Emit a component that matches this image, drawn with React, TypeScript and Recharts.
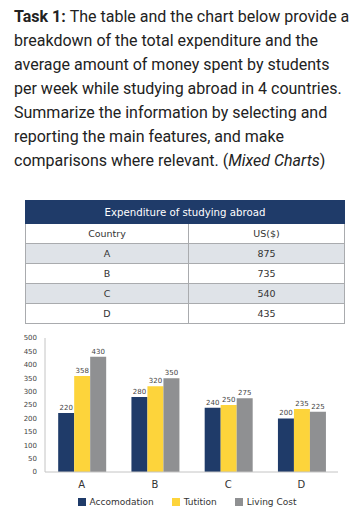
import React from 'react';
import { BarChart, Bar, XAxis, YAxis, Legend, LabelList } from 'recharts';

// chart data
const countries = ['A', 'B', 'C', 'D'];
const accommodation = [220, 280, 240, 200];
const tuition = [358, 320, 250, 235];
const livingCost = [430, 350, 275, 225];
const yTicks = [0, 50, 100, 150, 200, 250, 300, 350, 400, 450, 500];

// table data
const tableCountries = ['A', 'B', 'C', 'D'];
const tableTotals = [875, 735, 540, 435];

const NAVY = '#1f3b69';
const YELLOW = '#fdd43b';
const GRAY = '#8f9092';
const CHART_FONT = '"DejaVu Sans", sans-serif';

const chartData = countries.map((c, i) => ({
    country: c,
    accommodation: accommodation[i],
    tuition: tuition[i],
    living: livingCost[i],
}));

const introLines = [
    'The table and the chart below provide a',
    'breakdown of the total expenditure and the',
    'average amount of money spent by students',
    'per week while studying abroad in 4 countries.',
    'Summarize the information by selecting and',
    'reporting the main features, and make',
];

function Intro() {
    return (
        <div
            style={{
                position: 'absolute',
                left: 14,
                top: 5,
                width: 345,
                fontFamily: 'Roboto, sans-serif',
                fontSize: 16,
                lineHeight: '24px',
                color: '#222',
                whiteSpace: 'nowrap',
            }}
        >
            {introLines.map((line, i) => (
                <div key={i}>
                    {i === 0 && <b>Task 1: </b>}
                    {line}
                </div>
            ))}
            <div>
                comparisons where relevant. (<i>Mixed Charts</i>)
            </div>
        </div>
    );
}

const cell: React.CSSProperties = {
    border: '1px solid #a9abae',
    textAlign: 'center',
    padding: 0,
    height: 19,
    fontSize: 9.5,
    color: '#333',
};

function ExpenditureTable() {
    return (
        <table
            style={{
                position: 'absolute',
                left: 25,
                top: 200,
                width: 320,
                borderCollapse: 'collapse',
                fontFamily: CHART_FONT,
            }}
        >
            <thead>
                <tr>
                    <th
                        colSpan={2}
                        style={{
                            ...cell,
                            height: 22,
                            background: NAVY,
                            color: '#fff',
                            fontWeight: 'normal',
                            fontSize: 10.2,
                            borderColor: NAVY,
                        }}
                    >
                        Expenditure of studying abroad
                    </th>
                </tr>
            </thead>
            <tbody>
                <tr>
                    <td style={{ ...cell, width: 162 }}>Country</td>
                    <td style={cell}>US($)</td>
                </tr>
                {tableCountries.map((c, i) => (
                    <tr key={c} style={{ background: i % 2 === 0 ? '#dfe3e8' : '#fff' }}>
                        <td style={cell}>{c}</td>
                        <td style={cell}>{tableTotals[i]}</td>
                    </tr>
                ))}
            </tbody>
        </table>
    );
}

const legendItems = [
    { name: 'Accomodation', color: NAVY },
    { name: 'Tutition', color: YELLOW },
    { name: 'Living Cost', color: GRAY },
];

function ChartLegend() {
    return (
        <div
            style={{
                display: 'flex',
                justifyContent: 'center',
                gap: 18,
                paddingLeft: 36,
                fontFamily: CHART_FONT,
                fontSize: 9,
                color: '#333',
                marginTop: 5,
            }}
        >
            {legendItems.map((item) => (
                <div key={item.name} style={{ display: 'flex', alignItems: 'center' }}>
                    <span
                        style={{
                            display: 'inline-block',
                            width: 8,
                            height: 8,
                            background: item.color,
                            marginRight: 4,
                        }}
                    />
                    {item.name}
                </div>
            ))}
        </div>
    );
}

const valueLabel = { fontSize: 7, fill: '#444', fontFamily: CHART_FONT };

export default function App() {
    return (
        <div
            style={{
                position: 'absolute',
                left: 0,
                top: 0,
                width: 364,
                height: 512,
                background: '#fff',
                overflow: 'hidden',
            }}
        >
            <Intro />
            <ExpenditureTable />
            <div style={{ position: 'absolute', left: 0, top: 330 }}>
                <BarChart
                    width={364}
                    height={182}
                    data={chartData}
                    margin={{ top: 8, right: 26, left: 0, bottom: 0 }}
                    barCategoryGap="18%"
                    barGap={0}
                >
                    <XAxis
                        dataKey="country"
                        height={20}
                        tickLine={false}
                        axisLine={{ stroke: '#c4c4c4' }}
                        tickMargin={3}
                        tick={{ fontSize: 10, fill: '#333', fontFamily: CHART_FONT }}
                    />
                    <YAxis
                        width={45}
                        domain={[0, 500]}
                        ticks={yTicks}
                        interval={0}
                        tickLine={false}
                        axisLine={{ stroke: '#c4c4c4' }}
                        tick={{ fontSize: 7, fill: '#444', fontFamily: CHART_FONT }}
                    />
                    <Legend verticalAlign="bottom" height={20} content={() => <ChartLegend />} />
                    <Bar dataKey="accommodation" name="Accomodation" fill={NAVY} isAnimationActive={false}>
                        <LabelList dataKey="accommodation" position="top" offset={3} {...valueLabel} />
                    </Bar>
                    <Bar dataKey="tuition" name="Tutition" fill={YELLOW} isAnimationActive={false}>
                        <LabelList dataKey="tuition" position="top" offset={3} {...valueLabel} />
                    </Bar>
                    <Bar dataKey="living" name="Living Cost" fill={GRAY} isAnimationActive={false}>
                        <LabelList dataKey="living" position="top" offset={3} {...valueLabel} />
                    </Bar>
                </BarChart>
            </div>
        </div>
    );
}
